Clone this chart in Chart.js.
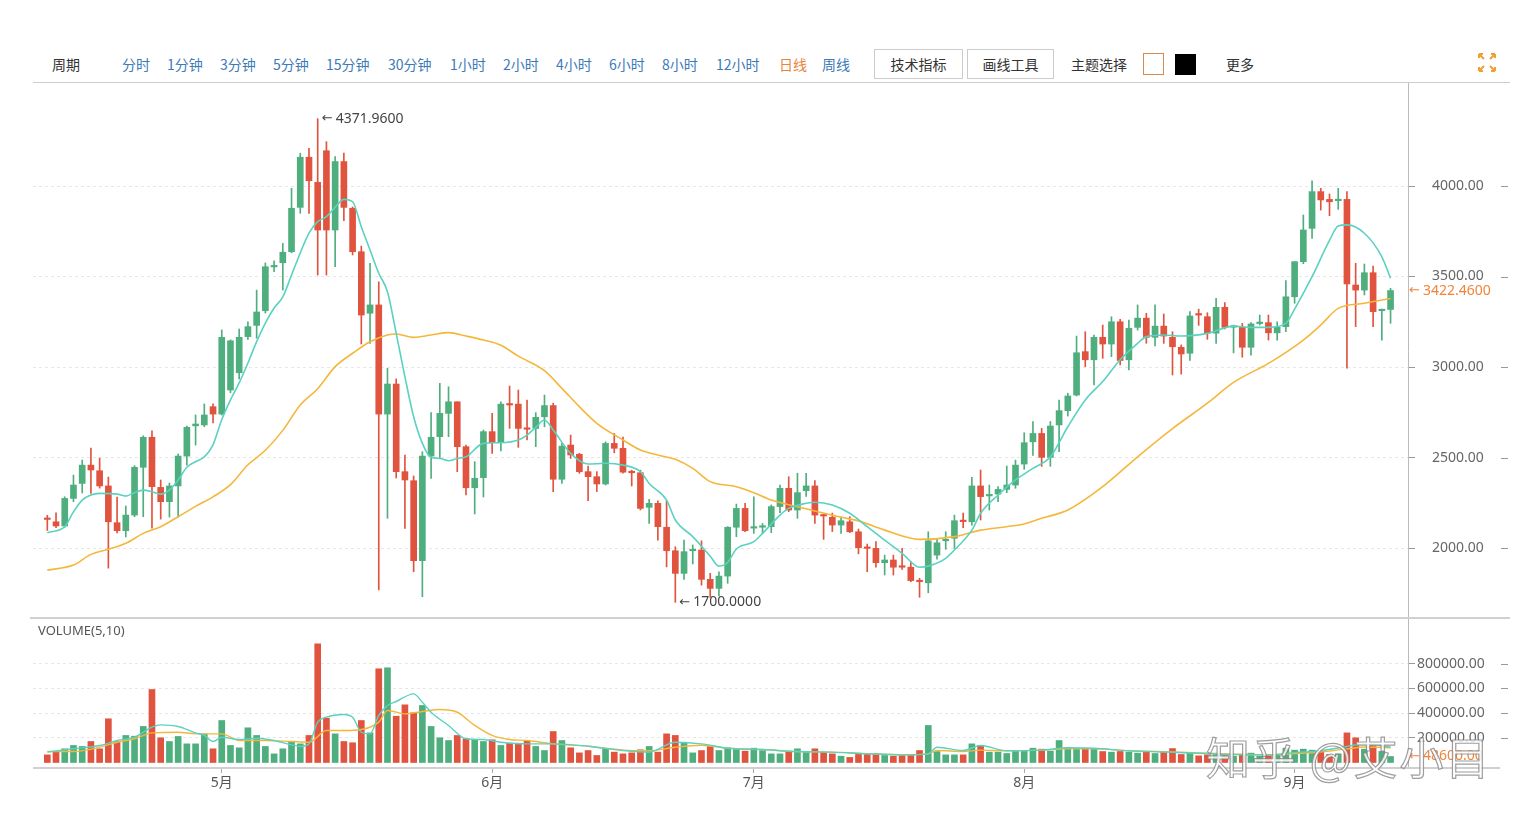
<!DOCTYPE html>
<html>
<head>
<meta charset="utf-8">
<script src="https://cdn.jsdelivr.net/npm/chart.js@4.4.0/dist/chart.umd.min.js"></script>
<style>
  body { margin: 0; width: 1532px; height: 819px; overflow: hidden; position: relative; background: #fff;
         font-family: "Noto Sans CJK SC", "Noto Sans", sans-serif; }
  .t { position: absolute; top: 54px; height: 20px; line-height: 20px; font-size: 14px; white-space: nowrap; color: #3d7ab8; }
  .dark { color: #333; }
  .btn { position: absolute; top: 49px; height: 28px; line-height: 28px; border: 1px solid #ccc; text-align: center;
         font-size: 14px; color: #333; background: #fff; }
  .line { position: absolute; background: #d0d0d0; }
  canvas { position: absolute; left: 0; }
  #vollabel { position: absolute; left: 38px; top: 621px; font-size: 13px; color: #555; font-family: "Noto Sans", sans-serif; }
  #wm { position: absolute; left: 1206px; top: 724px; font-size: 44px; letter-spacing: 2px; color: rgba(255,255,255,0.82);
        -webkit-text-stroke: 1.2px rgba(125,125,125,0.75); white-space: nowrap; }
</style>
</head>
<body>
<span class="t dark" style="left:52px">周期</span>
<span class="t" style="left:122px">分时</span>
<span class="t" style="left:167px">1分钟</span>
<span class="t" style="left:220px">3分钟</span>
<span class="t" style="left:273px">5分钟</span>
<span class="t" style="left:326px">15分钟</span>
<span class="t" style="left:388px">30分钟</span>
<span class="t" style="left:450px">1小时</span>
<span class="t" style="left:503px">2小时</span>
<span class="t" style="left:556px">4小时</span>
<span class="t" style="left:609px">6小时</span>
<span class="t" style="left:662px">8小时</span>
<span class="t" style="left:716px">12小时</span>
<span class="t" style="left:779px;color:#e8843a">日线</span>
<span class="t" style="left:822px">周线</span>
<div class="btn" style="left:874px;width:87px">技术指标</div>
<div class="btn" style="left:967px;width:85px">画线工具</div>
<span class="t dark" style="left:1071px">主题选择</span>
<div style="position:absolute;left:1143px;top:53px;width:19px;height:20px;border:1px solid #d88a4a"></div>
<div style="position:absolute;left:1175px;top:54px;width:21px;height:21px;background:#000"></div>
<span class="t dark" style="left:1226px">更多</span>
<svg style="position:absolute;left:1477px;top:52px" width="20" height="21" viewBox="0 0 20 21">
  <g stroke="#f0a030" stroke-width="2" fill="none">
    <path d="M2 2 L7 7 M2 2 L2 6 M2 2 L6 2"/>
    <path d="M18 2 L13 7 M18 2 L18 6 M18 2 L14 2"/>
    <path d="M2 19 L7 14 M2 19 L2 15 M2 19 L6 19"/>
    <path d="M18 19 L13 14 M18 19 L18 15 M18 19 L14 19"/>
  </g>
</svg>

<canvas id="main" width="1532" height="536" style="top:83px"></canvas>
<canvas id="vol" width="1532" height="200" style="top:619px"></canvas>

<div class="line" style="left:33px;top:82px;width:1477px;height:1px;background:#ccc"></div>
<div class="line" style="left:30px;top:617px;width:1480px;height:2px"></div>
<div class="line" style="left:33px;top:767px;width:1467px;height:2px"></div>
<div id="vollabel">VOLUME(5,10)</div>
<div id="wm">知乎 @艾小目</div>

<script>
// daily candles, index 0 = first day shown
const opens = [2165,2145,2122,2274,2357,2458,2427,2343,2140,2096,
  2182,2446,2612,2335,2256,2343,2508,2675,2680,2781,
  2740,2873,2968,3168,3230,3311,3553,3576,3637,3882,
  4159,4020,4195,3757,4135,3877,3637,3297,3343,2740,
  2906,2422,2372,1930,2508,2615,2744,2808,2560,2333,
  2389,2643,2582,2797,2795,2661,2661,2725,2787,2380,
  2569,2518,2422,2394,2354,2578,2551,2419,2416,2225,
  2247,2115,1985,1860,1985,1989,1827,1777,1845,2115,
  2219,2110,2115,2118,2229,2330,2210,2317,2343,2182,
  2170,2127,2145,2090,2005,1998,1919,1934,1896,1894,
  1818,1808,1961,2040,2054,2150,2145,2343,2288,2298,
  2324,2348,2464,2587,2633,2501,2680,2759,2845,3085,
  3040,3164,3127,3250,3040,3219,3270,3164,3226,3164,
  3109,3076,3290,3278,3187,3330,3220,3219,3109,3240,
  3245,3189,3223,3388,3582,3766,3969,3926,3919,3926,
  3453,3425,3521,3311,3318];
const highs = [2181,2195,2283,2403,2486,2552,2497,2392,2282,2232,
  2455,2620,2648,2376,2359,2519,2674,2735,2796,2796,
  3205,3150,3210,3250,3425,3575,3587,3683,3987,4181,
  4208,4371.96,4245,4162,4182,3884,3668,3573,3471,2993,
  2934,2514,2398,2532,2748,2910,2891,2808,2569,2477,
  2652,2744,2808,2895,2873,2818,2748,2845,2800,2578,
  2624,2523,2453,2422,2587,2633,2613,2430,2430,2269,
  2261,2261,2007,2044,2017,2040,1860,1869,2118,2243,
  2247,2283,2136,2238,2348,2394,2413,2413,2372,2185,
  2193,2173,2173,2105,2022,2035,1961,1961,1998,1925,
  1833,2090,2054,2090,2182,2193,2391,2431,2348,2339,
  2453,2486,2637,2699,2661,2699,2818,2855,3171,3195,
  3177,3232,3278,3264,3260,3343,3297,3343,3293,3195,
  3122,3306,3320,3300,3380,3356,3232,3241,3245,3287,
  3287,3250,3477,3582,3840,4029,3987,3956,3987,3969,
  3573,3569,3558,3320,3435];
const lows = [2097,2112,2115,2256,2304,2302,2331,1889,2083,2061,
  2173,2173,2110,2160,2171,2171,2458,2569,2670,2691,
  2735,2858,2934,3153,3159,3298,3527,3425,3631,3849,
  3849,3508,3508,3554,3808,3619,3127,3131,1768,2164,
  2387,2109,1869,1731,2385,2500,2615,2422,2293,2188,
  2282,2523,2536,2661,2556,2597,2560,2670,2311,2357,
  2495,2413,2261,2312,2348,2526,2413,2343,2210,2136,
  2044,1896,1700,1827,1912,1795,1728,1735,1805,2063,
  2090,2081,2081,2085,2195,2201,2164,2285,2136,2048,
  2091,2081,2085,1968,1869,1894,1851,1851,1882,1814,
  1728,1753,1938,1993,1998,2112,2127,2155,2210,2256,
  2306,2330,2435,2512,2451,2451,2532,2729,2840,3002,
  2901,3048,3057,3011,2984,3204,3131,3116,3131,2956,
  2961,3036,3230,3153,3131,3210,3078,3054,3066,3232,
  3149,3149,3195,3352,3571,3711,3867,3836,3871,2993,
  3223,3398,3223,3149,3242];
const closes = [2158,2122,2274,2348,2458,2431,2343,2145,2096,2182,
  2446,2612,2339,2256,2343,2508,2667,2685,2735,2740,
  3164,3145,3164,3223,3304,3554,3560,3634,3877,4159,
  4029,3757,3757,4135,3882,3637,3287,3343,2740,2906,
  2422,2376,1930,2508,2612,2744,2808,2560,2333,2385,
  2643,2582,2795,2790,2661,2656,2722,2787,2380,2563,
  2514,2422,2394,2354,2578,2551,2419,2416,2219,2247,
  2118,1985,1860,1980,1993,1827,1777,1845,2115,2219,
  2096,2115,2118,2229,2330,2210,2306,2343,2182,2177,
  2127,2151,2090,2002,1998,1919,1934,1894,1894,1820,
  1814,2040,2029,2044,2151,2146,2343,2284,2293,2324,
  2348,2458,2582,2633,2501,2674,2759,2840,3079,3040,
  3164,3127,3250,3036,3214,3270,3164,3226,3171,3112,
  3072,3282,3287,3189,3330,3219,3223,3109,3238,3245,
  3189,3219,3388,3582,3757,3969,3923,3913,3926,3459,
  3425,3521,3306,3318,3422.46];
const volumes = [62000,84000,111000,138000,130000,170000,111000,354000,170000,219000,
  213000,292000,591000,200000,170000,211000,151000,151000,232000,111000,
  340000,138000,119000,281000,219000,130000,70000,111000,164000,151000,
  219000,961000,359000,232000,170000,160000,340000,240000,759000,767000,
  375000,467000,403000,462000,292000,200000,178000,219000,192000,186000,
  170000,184000,138000,156000,156000,178000,130000,97000,251000,178000,
  119000,78000,97000,57000,111000,84000,70000,78000,103000,130000,
  84000,232000,219000,164000,78000,97000,130000,97000,119000,111000,
  92000,116000,97000,70000,70000,84000,111000,84000,111000,84000,
  70000,51000,41000,70000,70000,73000,57000,51000,57000,62000,
  97000,300000,89000,62000,62000,62000,151000,138000,84000,84000,
  73000,92000,92000,116000,108000,92000,178000,116000,116000,116000,
  108000,89000,84000,89000,84000,76000,84000,73000,84000,113000,
  65000,76000,54000,62000,70000,65000,51000,65000,76000,51000,
  57000,62000,116000,100000,108000,100000,84000,65000,70000,240000,
  200000,108000,150000,90000,48600];

// moving average lines: [day index, value]
const priceMaShort = [[0,2085],[2,2118],[3,2200],[4,2265],[5,2293],[6,2302],[8,2298],[9,2287],[10,2306],[11,2320],
  [12,2311],[13,2298],[14,2320],[15,2376],[16,2446],[17,2477],[18,2504],[19,2570],[20,2710],[21,2818],
  [22,2912],[23,3022],[24,3140],[25,3243],[26,3326],[27,3387],[28,3508],[29,3630],[30,3740],[31,3803],
  [32,3831],[33,3882],[34,3926],[35,3913],[36,3775],[37,3646],[38,3518],[39,3416],[40,3186],[41,2946],
  [42,2725],[43,2578],[44,2501],[45,2495],[46,2482],[47,2495],[48,2504],[50,2578],[52,2582],[54,2597],
  [55,2624],[56,2667],[57,2707],[58,2652],[60,2523],[62,2464],[64,2468],[66,2458],[68,2422],[69,2357],
  [71,2265],[72,2155],[74,2063],[76,1955],[77,1900],[78,1920],[79,1995],[81,2035],[82,2081],[84,2182],
  [85,2219],[87,2247],[88,2253],[90,2238],[92,2192],[94,2118],[96,2044],[98,1971],[100,1894],[101,1900],
  [103,1943],[104,1989],[106,2099],[107,2192],[109,2293],[111,2376],[113,2440],[115,2504],[117,2670],[119,2818],
  [121,2920],[123,3040],[125,3131],[126,3168],[128,3177],[130,3171],[133,3186],[136,3226],[138,3219],[140,3219],
  [142,3241],[143,3320],[145,3499],[147,3700],[148,3779],[149,3785],[151,3739],[153,3609],[154,3490]];
const priceMaLong = [[0,1878],[3,1906],[5,1965],[7,1993],[9,2026],[11,2081],[13,2118],[15,2173],[17,2230],[19,2283],
  [21,2350],[23,2460],[25,2540],[27,2650],[29,2790],[31,2880],[33,3002],[35,3076],[37,3140],[39,3177],
  [40,3182],[42,3164],[44,3177],[46,3190],[48,3171],[50,3149],[52,3120],[54,3060],[57,2980],[59,2882],
  [61,2781],[63,2689],[66,2597],[68,2541],[70,2514],[72,2490],[74,2440],[76,2367],[79,2339],[81,2306],
  [83,2265],[86,2228],[88,2205],[91,2170],[93,2150],[96,2099],[100,2048],[104,2063],[107,2099],[110,2118],
  [112,2133],[114,2164],[117,2210],[121,2339],[125,2504],[129,2660],[133,2800],[136,2915],[140,3020],[144,3149],
  [146,3232],[148,3324],[151,3352],[154,3379]];
const volMa5 = [[0,84000],[3,111000],[6,138000],[8,178000],[10,205000],[12,286000],[13,305000],[15,292000],[17,240000],[18,219000],
  [19,170000],[20,205000],[22,186000],[24,197000],[26,178000],[28,143000],[29,130000],[30,151000],[31,327000],[32,367000],
  [34,389000],[35,367000],[36,245000],[37,232000],[38,381000],[39,462000],[40,494000],[42,556000],[43,488000],[44,407000],
  [46,300000],[48,192000],[50,186000],[52,164000],[55,151000],[58,151000],[62,132000],[66,97000],[69,84000],[72,164000],
  [75,151000],[78,116000],[82,105000],[86,89000],[90,84000],[94,70000],[98,62000],[101,70000],[102,124000],[105,97000],
  [107,138000],[110,95000],[114,100000],[117,120000],[120,115000],[124,95000],[128,85000],[132,75000],[136,65000],[140,62000],
  [143,80000],[146,95000],[149,130000],[151,150000],[154,125000]];
const volMa10 = [[0,89000],[3,89000],[6,124000],[8,164000],[10,192000],[12,240000],[15,245000],[17,232000],[20,232000],[22,178000],
  [25,178000],[28,170000],[30,164000],[32,259000],[34,259000],[36,267000],[38,327000],[39,421000],[41,394000],[43,413000],
  [45,429000],[47,407000],[49,300000],[51,219000],[53,186000],[55,178000],[58,151000],[62,132000],[66,100000],[69,95000],
  [72,124000],[75,140000],[78,116000],[82,105000],[86,89000],[90,84000],[94,72000],[98,62000],[101,70000],[102,97000],
  [105,89000],[107,100000],[110,95000],[114,100000],[117,110000],[120,110000],[124,95000],[128,88000],[132,78000],[136,68000],
  [140,62000],[143,72000],[146,85000],[149,110000],[151,125000],[154,120000]];

const monthStarts = [20, 51, 81, 112, 143];
const monthLabels = ['5月', '6月', '7月', '8月', '9月'];
const priceTicks = [2000, 2500, 3000, 3500, 4000];
const volumeTicks = [200000, 400000, 600000, 800000];

const upColor = '#4fae7d';
const downColor = '#e0533e';
const maShortColor = '#5ad2c1';
const maLongColor = '#f5b73b';
const xMin = -1.64, xMax = 156.0;

Chart.defaults.font.family = '"Noto Sans", "Noto Sans CJK SC", sans-serif';
Chart.defaults.font.size = 14;
Chart.defaults.color = '#666';

const candleColors = closes.map((c, i) => c >= opens[i] ? upColor : downColor);
const toPoints = pairs => pairs.map(([i, v]) => ({x: i, y: v}));

function fixWidth(scale) {
  scale.width = 124;
  scale.paddingTop = 0;
  scale.paddingBottom = 0;
}

// arrow + number, the way the reference marks extreme / last values
function arrowLabel(ctx, text, x, y, color) {
  ctx.fillStyle = color;
  ctx.font = '13px "DejaVu Sans", sans-serif';
  ctx.fillText('←', x, y);
  ctx.font = '14px "Noto Sans", sans-serif';
  ctx.fillText(text, x + 14, y);
}

const trailingDash = {
  id: 'trailingDash',
  afterDraw(chart) {
    const ys = chart.scales.y, ctx = chart.ctx;
    ctx.save();
    ctx.strokeStyle = '#999';
    ctx.lineWidth = 1;
    ys.ticks.forEach(t => {
      const py = Math.round(ys.getPixelForValue(t.value)) + 0.5;
      ctx.beginPath(); ctx.moveTo(1501, py); ctx.lineTo(1508, py); ctx.stroke();
    });
    ctx.restore();
  }
};

const priceLabels = {
  id: 'priceLabels',
  afterDatasetsDraw(chart) {
    const {ctx, chartArea} = chart;
    const xs = chart.scales.x, ys = chart.scales.y;
    ctx.save();
    ctx.textBaseline = 'middle';
    ctx.textAlign = 'left';
    const hi = Math.max(...highs), hiI = highs.indexOf(hi);
    arrowLabel(ctx, hi.toFixed(4), xs.getPixelForValue(hiI) + 4, ys.getPixelForValue(hi), '#444');
    const lo = Math.min(...lows), loI = lows.indexOf(lo);
    arrowLabel(ctx, lo.toFixed(4), xs.getPixelForValue(loI) + 4, ys.getPixelForValue(lo), '#444');
    const last = closes[closes.length - 1];
    arrowLabel(ctx, last.toFixed(4), chartArea.right + 1, ys.getPixelForValue(last), '#f0843c');
    ctx.restore();
  }
};

const volumeLabel = {
  id: 'volumeLabel',
  afterDatasetsDraw(chart) {
    const {ctx, chartArea} = chart;
    const ys = chart.scales.y;
    const last = volumes[volumes.length - 1];
    ctx.save();
    ctx.textBaseline = 'middle';
    ctx.textAlign = 'left';
    arrowLabel(ctx, last.toFixed(2), chartArea.right + 1, ys.getPixelForValue(last), '#f0843c');
    ctx.restore();
  }
};

const gridOpts = {color: '#e6e6e6', offset: false, drawTicks: true, tickLength: 7, tickColor: '#999', tickBorderDash: []};
const borderOpts = {display: true, color: '#bbb', width: 1, dash: [3, 3]};

new Chart(document.getElementById('main'), {
  type: 'bar',
  data: {
    datasets: [
      {
        type: 'line', data: toPoints(priceMaShort), borderColor: maShortColor, borderWidth: 1.6,
        pointRadius: 0, cubicInterpolationMode: 'monotone', order: 0
      },
      {
        type: 'line', data: toPoints(priceMaLong), borderColor: maLongColor, borderWidth: 1.6,
        pointRadius: 0, cubicInterpolationMode: 'monotone', order: 0
      },
      {
        data: closes.map((c, i) => ({x: i, y: [opens[i], c]})),
        backgroundColor: candleColors, barThickness: 6, minBarLength: 1.5, grouped: false, order: 1
      },
      {
        data: closes.map((c, i) => ({x: i, y: [lows[i], highs[i]]})),
        backgroundColor: candleColors, barThickness: 1, grouped: false, order: 2
      }
    ]
  },
  options: {
    responsive: false, animation: false,
    layout: {padding: {left: 33, right: 0, top: 0, bottom: 0}, autoPadding: false},
    plugins: {legend: {display: false}, tooltip: {enabled: false}},
    scales: {
      x: {type: 'linear', min: xMin, max: xMax, display: false, offset: false},
      y: {
        position: 'right', min: 1608, max: 4569,
        afterBuildTicks: s => { s.ticks = priceTicks.map(v => ({value: v})); },
        afterFit: fixWidth,
        ticks: {padding: 17, crossAlign: 'near', color: '#666', callback: v => Number(v).toFixed(2)},
        grid: gridOpts, border: borderOpts
      }
    }
  },
  plugins: [priceLabels, trailingDash]
});

new Chart(document.getElementById('vol'), {
  type: 'bar',
  data: {
    datasets: [
      {
        type: 'line', data: toPoints(volMa5), borderColor: maShortColor, borderWidth: 1.4,
        pointRadius: 0, cubicInterpolationMode: 'monotone', order: 0
      },
      {
        type: 'line', data: toPoints(volMa10), borderColor: maLongColor, borderWidth: 1.4,
        pointRadius: 0, cubicInterpolationMode: 'monotone', order: 0
      },
      {
        data: volumes.map((v, i) => ({x: i, y: v})),
        backgroundColor: candleColors, barThickness: 6, grouped: false, order: 1
      }
    ]
  },
  options: {
    responsive: false, animation: false,
    layout: {padding: {left: 33, right: 0, top: 0, bottom: 0}, autoPadding: false},
    plugins: {legend: {display: false}, tooltip: {enabled: false}},
    scales: {
      x: {
        type: 'linear', min: xMin, max: xMax, offset: false, position: 'bottom',
        afterBuildTicks: s => { s.ticks = monthStarts.map(v => ({value: v})); },
        afterFit: s => { s.height = 51; s.paddingLeft = 0; s.paddingRight = 0; },
        ticks: {autoSkip: false, maxRotation: 0, padding: 2, color: '#555',
                callback: v => monthLabels[monthStarts.indexOf(v)]},
        grid: {offset: false, drawOnChartArea: false, drawTicks: true, tickLength: 5, tickColor: '#aaa'},
        border: {display: false}
      },
      y: {
        position: 'right', min: -44500, max: 1162000,
        afterBuildTicks: s => { s.ticks = volumeTicks.map(v => ({value: v})); },
        afterFit: fixWidth,
        ticks: {padding: 2, crossAlign: 'near', color: '#666', callback: v => Number(v).toFixed(2)},
        grid: gridOpts, border: borderOpts
      }
    }
  },
  plugins: [volumeLabel, trailingDash]
});
</script>
</body>
</html>
